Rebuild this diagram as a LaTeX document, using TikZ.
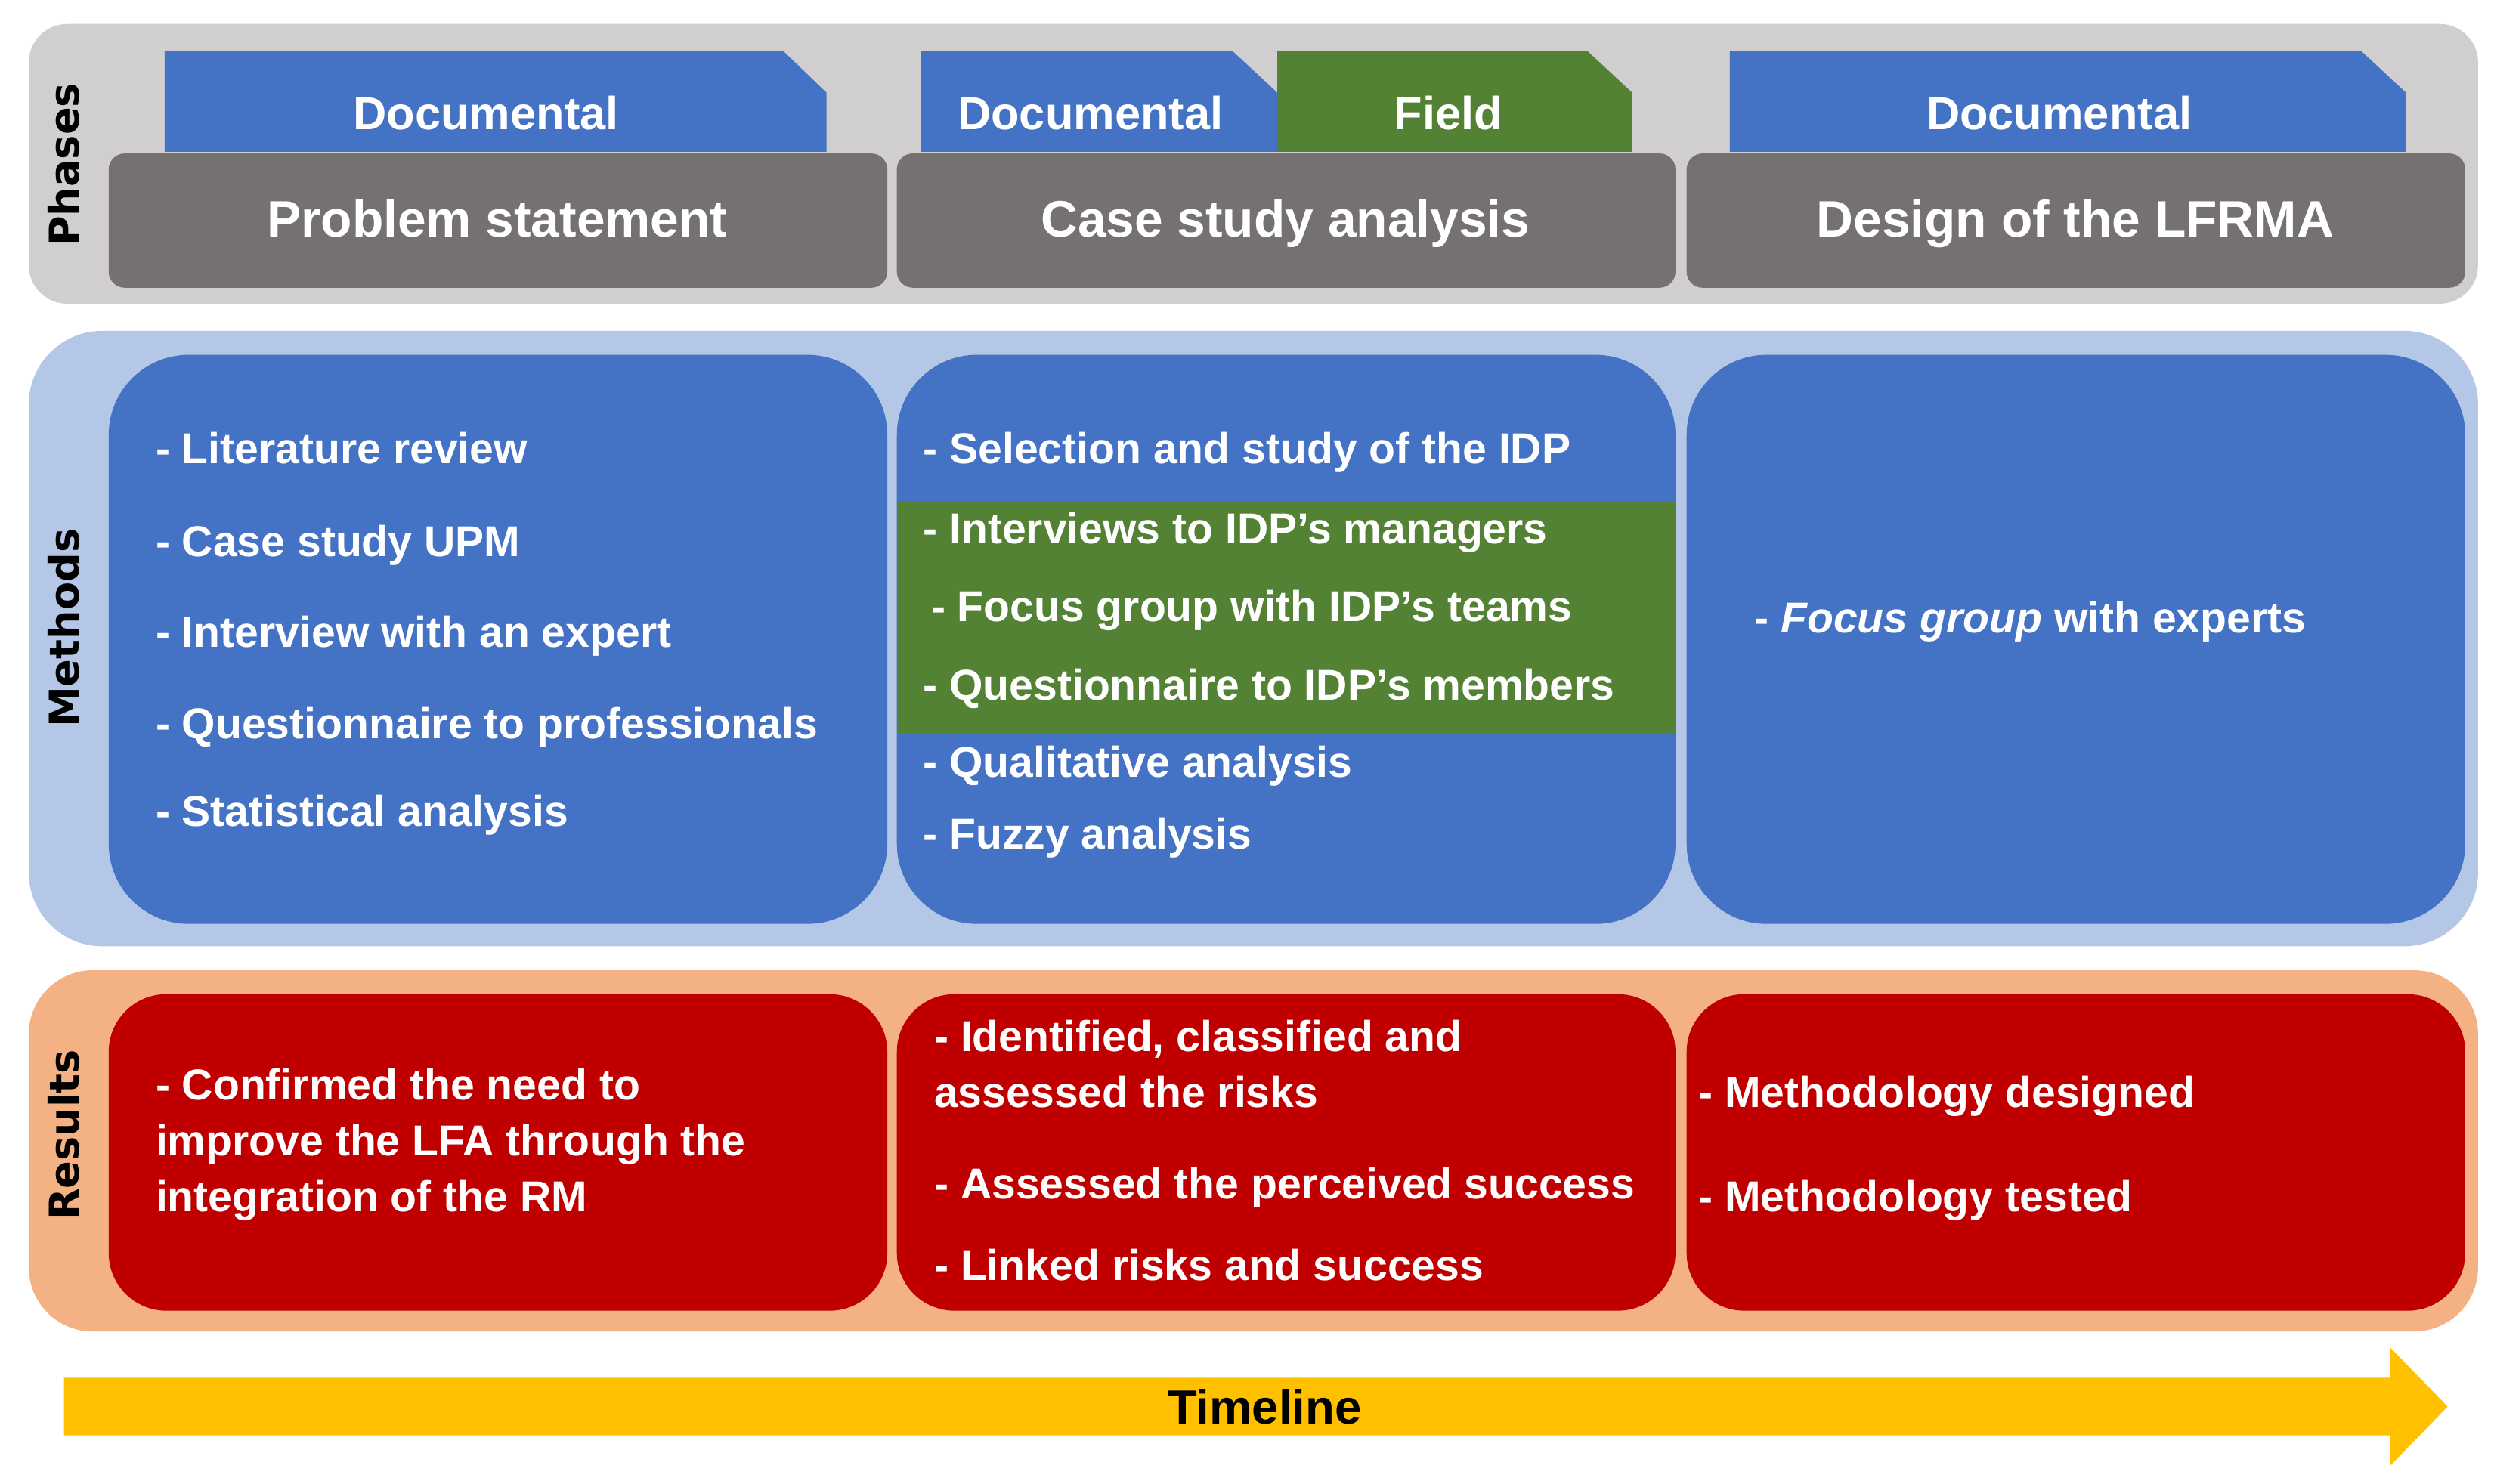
\documentclass[tikz,border=0pt]{standalone}
\usepackage{fontspec}
\setmainfont{Liberation Sans}
\newfontfamily\sidefont{DejaVu Sans}

\definecolor{bandgray}{HTML}{D0CECE}
\definecolor{phasegray}{HTML}{767171}
\definecolor{docblue}{HTML}{4472C4}
\definecolor{fieldgreen}{HTML}{548235}
\definecolor{bandblue}{HTML}{B4C7E7}
\definecolor{bandsalmon}{HTML}{F4B183}
\definecolor{resred}{HTML}{C00000}
\definecolor{timeyellow}{HTML}{FFC000}

\begin{document}
\begin{tikzpicture}[x=0.5pt,y=0.5pt,yscale=-1,xscale=1,
  tabtxt/.style={anchor=base,inner sep=0pt,text=white,font=\bfseries\fontsize{14.5}{17}\selectfont},
  phasetxt/.style={anchor=base,inner sep=0pt,text=white,font=\bfseries\fontsize{16}{19}\selectfont},
  itemtxt/.style={anchor=base west,inner sep=0pt,text=white,align=left,font=\bfseries\fontsize{13.5}{17.5}\selectfont},
  sidetxt/.style={rotate=90,inner sep=0pt,font=\sidefont\bfseries\fontsize{12.8}{15}\selectfont}]
\useasboundingbox (0,0) rectangle (1560,928);

%Shape: Rounded Rect [Phases band]
\draw [draw=none,fill=bandgray,rounded corners=12pt] (18,15) rectangle (1550,190) ;
%Shape: Tabs
\draw [draw=none,fill=docblue] (103,95) -- (103,32) -- (490,32) -- (517,58) -- (517,95) -- cycle ;
\draw [draw=none,fill=docblue] (576,95) -- (576,32) -- (771,32) -- (799,58) -- (799,95) -- cycle ;
\draw [draw=none,fill=fieldgreen] (799,95) -- (799,32) -- (993,32) -- (1021,58) -- (1021,95) -- cycle ;
\draw [draw=none,fill=docblue] (1082,95) -- (1082,32) -- (1477,32) -- (1505,58) -- (1505,95) -- cycle ;
%Shape: Phase boxes
\draw [draw=none,fill=phasegray,rounded corners=5pt] (68,96) rectangle (555,180) ;
\draw [draw=none,fill=phasegray,rounded corners=5pt] (561,96) rectangle (1048,180) ;
\draw [draw=none,fill=phasegray,rounded corners=5pt] (1055,96) rectangle (1542,180) ;

%Shape: Rounded Rect [Methods band]
\draw [draw=none,fill=bandblue,rounded corners=23pt] (18,207) rectangle (1550,592) ;
\draw [draw=none,fill=docblue,rounded corners=25pt] (68,222) rectangle (555,578) ;
\draw [draw=none,fill=docblue,rounded corners=25pt] (561,222) rectangle (1048,578) ;
\draw [draw=none,fill=fieldgreen] (561,314) rectangle (1048,459) ;
\draw [draw=none,fill=docblue,rounded corners=25pt] (1055,222) rectangle (1542,578) ;

%Shape: Rounded Rect [Results band]
\draw [draw=none,fill=bandsalmon,rounded corners=20pt] (18,607) rectangle (1550,833) ;
\draw [draw=none,fill=resred,rounded corners=18pt] (68,622) rectangle (555,820) ;
\draw [draw=none,fill=resred,rounded corners=18pt] (561,622) rectangle (1048,820) ;
\draw [draw=none,fill=resred,rounded corners=18pt] (1055,622) rectangle (1542,820) ;

%Shape: Arrow [Timeline]
\draw [draw=none,fill=timeyellow] (40,862) -- (1495,862) -- (1495,843) -- (1531,880) -- (1495,917) -- (1495,898) -- (40,898) -- cycle ;

% Text Node
\draw (40,103) node [sidetxt] (phases) {Phases};
\draw (40,393) node [sidetxt] (methods) {Methods};
\draw (40,710) node [sidetxt] (results) {Results};

% Text Node
\draw (304,81) node [tabtxt] (doc1) {Documental};
\draw (682,81) node [tabtxt] (doc2) {Documental};
\draw (906,81) node [tabtxt] (field) {Field};
\draw (1288,81) node [tabtxt] (doc3) {Documental};
\draw (311,148) node [phasetxt] (problem) {Problem statement};
\draw (804,148) node [phasetxt] (casestudy) {Case study analysis};
\draw (1298,148) node [phasetxt] (design) {Design of the LFRMA};

% Text Node
\draw (97,290) node [itemtxt] (litrev) {- Literature review};
\draw (97,348) node [itemtxt] (upm) {- Case study UPM};
\draw (97,405) node [itemtxt] (expert) {- Interview with an expert};
\draw (97,462) node [itemtxt] (profq) {- Questionnaire to professionals};
\draw (97,517) node [itemtxt] (stats) {- Statistical analysis};

% Text Node
\draw (577,290) node [itemtxt] (idpsel) {- Selection and study of the IDP};
\draw (577,340) node [itemtxt] (managers) {- Interviews to IDP’s managers};
\draw (582,389) node [itemtxt] (teams) {- Focus group with IDP’s teams};
\draw (577,438) node [itemtxt] (members) {- Questionnaire to IDP’s members};
\draw (577,486) node [itemtxt] (qual) {- Qualitative analysis};
\draw (577,531) node [itemtxt] (fuzzy) {- Fuzzy analysis};

% Text Node
\draw (1097,396) node [itemtxt] (experts) {- \textit{Focus group} with experts};

% Text Node
\draw (97,758) node [itemtxt] (confirmed) {- Confirmed the need to\\improve the LFA through the\\integration of the RM};
\draw (584,693) node [itemtxt] (risks) {- Identified, classified and\\assessed the risks};
\draw (584,750) node [itemtxt] (success) {- Assessed the perceived success};
\draw (584,801) node [itemtxt] (linked) {- Linked risks and success};
\draw (1062,693) node [itemtxt] (designed) {- Methodology designed};
\draw (1062,758) node [itemtxt] (tested) {- Methodology tested};

% Text Node
\draw (791,880) node [inner sep=0pt,font=\bfseries\fontsize{15}{18}\selectfont] (timeline) {Timeline};
\end{tikzpicture}
\end{document}
